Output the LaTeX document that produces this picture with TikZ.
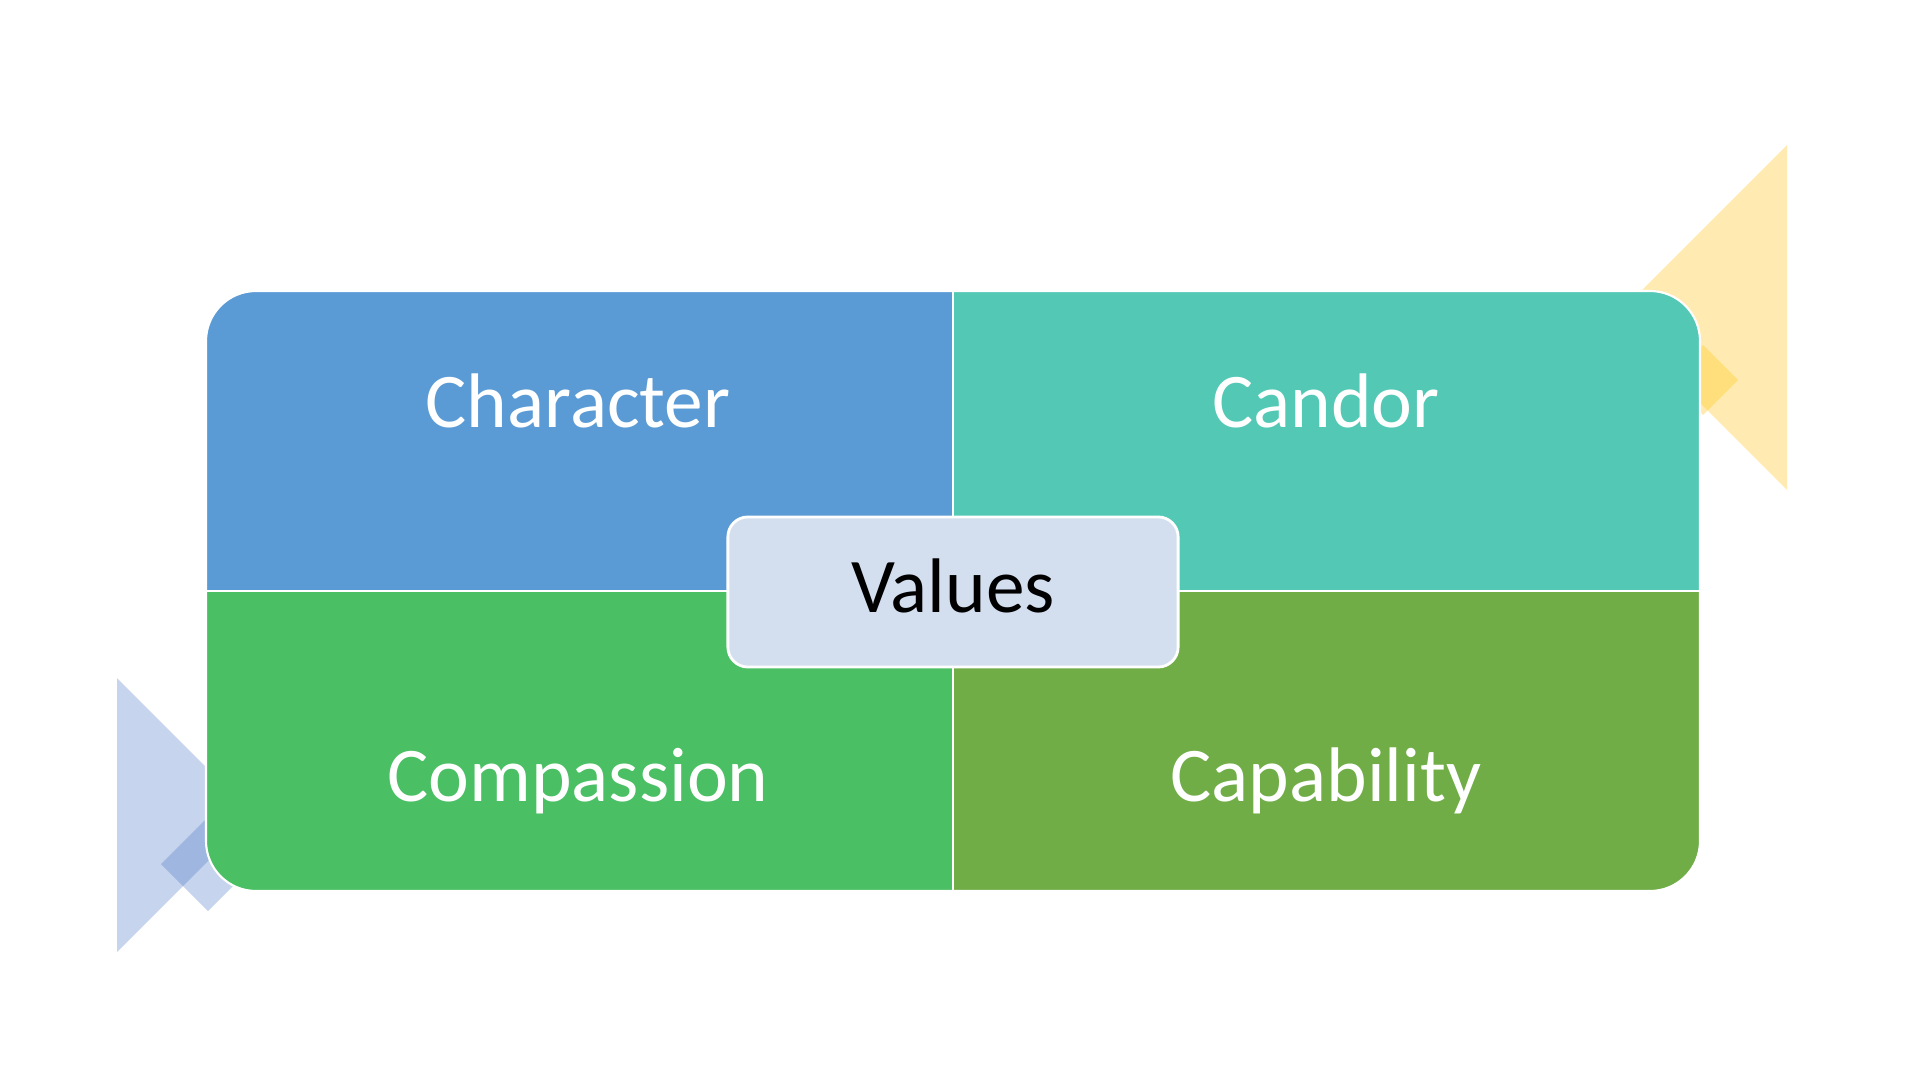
\documentclass[tikz,border=0pt]{standalone}
\usepackage{fontspec}
\setmainfont{Carlito}
\definecolor{charblue}{HTML}{5B9BD5}
\definecolor{candorteal}{HTML}{53C9B5}
\definecolor{compgreen}{HTML}{4ABF63}
\definecolor{capgreen}{HTML}{70AD47}
\definecolor{valfill}{HTML}{D3DFEF}
\definecolor{decoyellow}{HTML}{FFC000}
\definecolor{decoblue}{HTML}{4472C4}
\begin{document}
\begin{tikzpicture}[x=0.01cm,y=-0.01cm,every node/.style={font=\fontsize{22}{26}\selectfont},
  quad/.style={text=white,anchor=base},
  deco/.style={opacity=0.3}]
  \useasboundingbox (0,0) rectangle (1920,1073);
  \fill[white] (0,0) rectangle (1920,1073);
  % faded shapes behind the grid
  \fill[deco,decoyellow] (1787,145) -- (1787,490) -- (1614.5,317.5) -- cycle;
  \fill[deco,decoyellow] (1703,345) -- (1738,380) -- (1703,415) -- (1668,380) -- cycle;
  \fill[deco,decoblue] (117,678) -- (117,952) -- (254,815) -- cycle;
  \fill[deco,decoblue] (208,817) -- (255,864) -- (208,911) -- (161,864) -- cycle;
  % the four quadrants
  \begin{scope}
    \clip[rounded corners=0.5cm] (206,291) rectangle (1700,891);
    \fill[charblue] (206,291) rectangle (953,591);
    \fill[candorteal] (953,291) rectangle (1700,591);
    \fill[compgreen] (206,591) rectangle (953,891);
    \fill[capgreen] (953,591) rectangle (1700,891);
  \end{scope}
  \draw[white,line width=0.6pt,rounded corners=0.5cm] (206,291) rectangle (1700,891);
  \draw[white,line width=0.6pt] (953,291) -- (953,891) (206,591) -- (1700,591);
  \node[quad] (char) at (578,427) {Character};
  \node[quad] (candor) at (1326,427) {Candor};
  \node[quad] (comp) at (578,801) {Compassion};
  \node[quad] (capab) at (1326,801) {Capability};
  \node[draw=white,line width=0.8pt,fill=valfill,rounded corners=0.2cm,minimum width=4.5cm,minimum height=1.5cm,text depth=0.12cm] (values) at (953,592) {Values};
\end{tikzpicture}
\end{document}
